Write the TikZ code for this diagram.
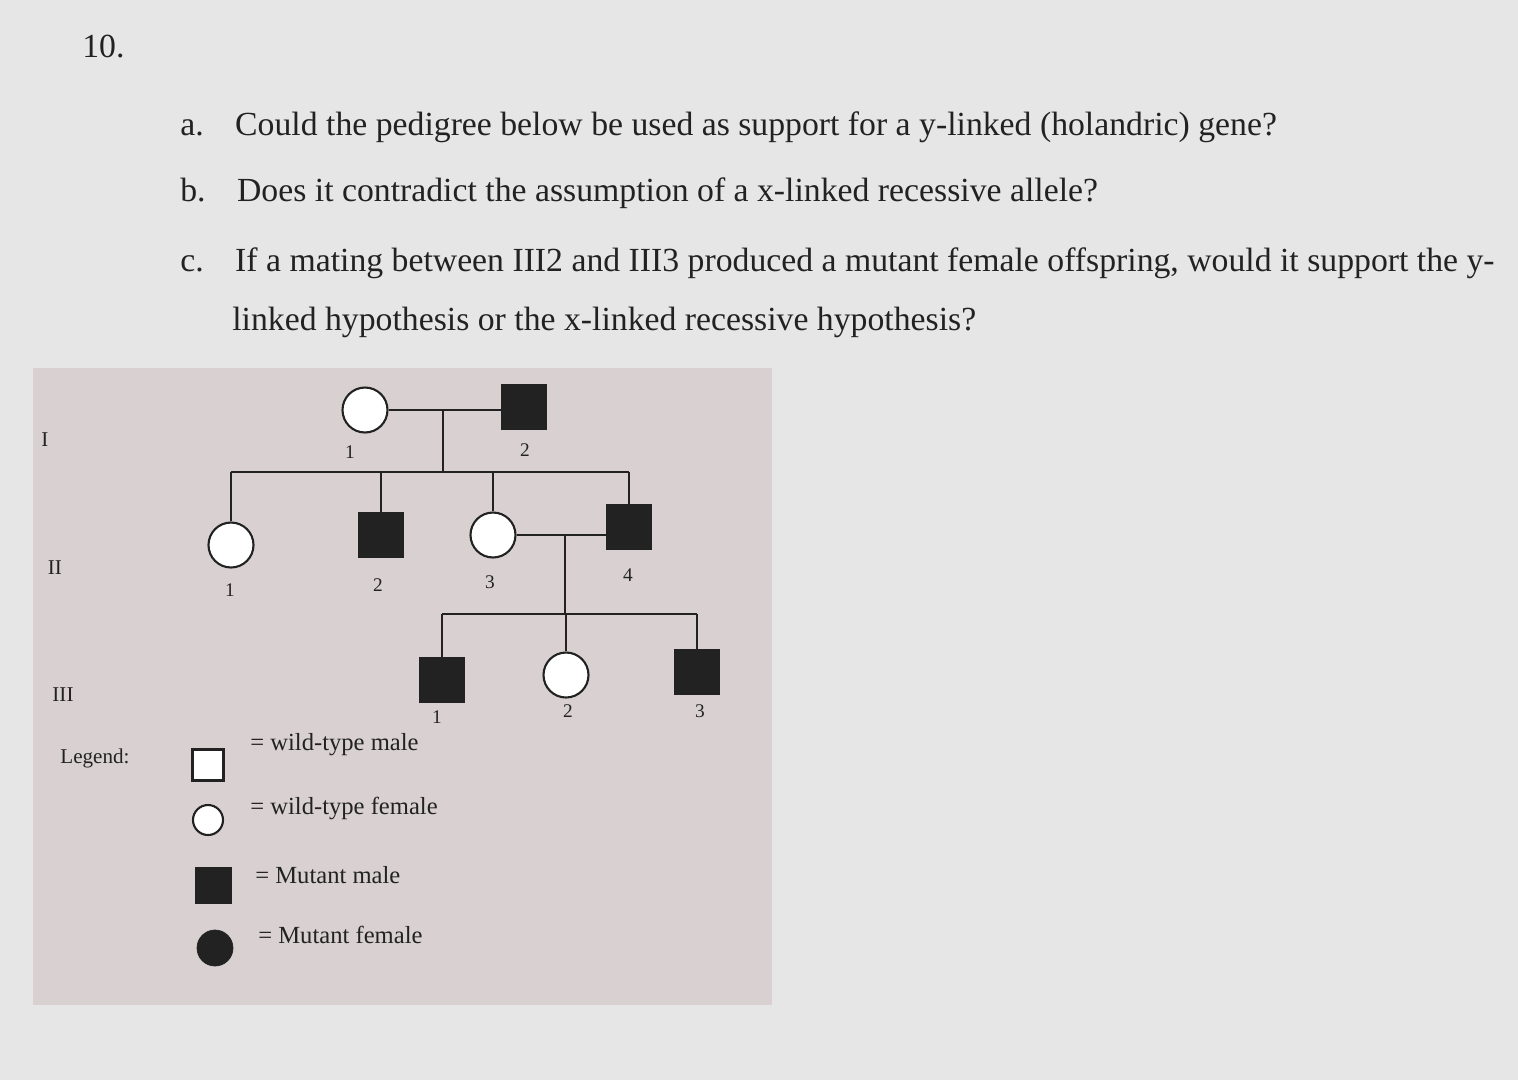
\documentclass[tikz,border=0pt]{standalone}
\usepackage{fontspec}
\setmainfont{Liberation Serif}
\definecolor{bgc}{HTML}{E6E6E6}
\definecolor{panel}{HTML}{D9D1D1}
\definecolor{ink}{HTML}{222222}
\begin{document}
\begin{tikzpicture}[x=0.02cm,y=-0.02cm,
  q/.style={anchor=west,font=\fontsize{19.2}{22}\selectfont,text=ink,inner sep=0},
  lab/.style={font=\fontsize{11}{13}\selectfont,text=ink,inner sep=0},
  rom/.style={font=\fontsize{12}{14}\selectfont,text=ink,inner sep=0},
  leg/.style={anchor=west,font=\fontsize{14}{16}\selectfont,text=ink,inner sep=0},
  msq/.style={draw=ink,fill=ink,minimum size=0.9cm,inner sep=0},
  wc/.style={circle,draw=ink,line width=1.2pt,fill=white,minimum size=0.9cm,inner sep=0},
  ln/.style={draw=ink,line width=1pt}]
\fill[bgc] (0,0) rectangle (1518,1080);
\useasboundingbox (0,0) rectangle (1518,1080);
\fill[panel] (33,368) rectangle (772,1005);
\node[q] (n10) at (82,47) {10.};
\node[q] (qa) at (180,127) {a.\hspace{0.6em} Could the pedigree below be used as support for a y-linked (holandric) gene?};
\node[q] (qb) at (180,193) {b.\hspace{0.6em} Does it contradict the assumption of a x-linked recessive allele?};
\node[q] (qc) at (180,263) {c.\hspace{0.6em} If a mating between III2 and III3 produced a mutant female offspring, would it support the y-};
\node[q] (qc2) at (232,322) {linked hypothesis or the x-linked recessive hypothesis?};
% generation I
\node[wc] (i1) at (365,410) {};
\node[msq] (i2) at (524,407) {};
\draw[ln] (i1.east) -- (i2.west |- i1.east);
\coordinate (m1) at (443,410);
\coordinate (s1) at (443,472);
\draw[ln] (m1) -- (s1);
\draw[ln] (231,472) -- (629,472);
\node[wc] (ii1) at (231,545) {};
\node[msq] (ii2) at (381,535) {};
\node[wc] (ii3) at (493,535) {};
\node[msq] (ii4) at (629,527) {};
\draw[ln] (ii1.north) -- (ii1.north |- s1);
\draw[ln] (ii2.north) -- (ii2.north |- s1);
\draw[ln] (ii3.north) -- (ii3.north |- s1);
\draw[ln] (ii4.north) -- (ii4.north |- s1);
\draw[ln] (ii3.east) -- (ii4.west |- ii3.east);
\coordinate (m2) at (565,535);
\coordinate (s2) at (565,614);
\draw[ln] (m2) -- (s2);
\draw[ln] (442,614) -- (697,614);
\node[msq] (iii1) at (442,680) {};
\node[wc] (iii2) at (566,675) {};
\node[msq] (iii3) at (697,672) {};
\draw[ln] (iii1.north) -- (iii1.north |- s2);
\draw[ln] (iii2.north) -- (iii2.north |- s2);
\draw[ln] (iii3.north) -- (iii3.north |- s2);
% labels
\node[lab] (l11) at (350,452) {1};
\node[lab] (l12) at (525,450) {2};
\node[lab] (l21) at (230,590) {1};
\node[lab] (l22) at (378,585) {2};
\node[lab] (l23) at (490,582) {3};
\node[lab] (l24) at (628,575) {4};
\node[lab] (l31) at (437,717) {1};
\node[lab] (l32) at (568,711) {2};
\node[lab] (l33) at (700,711) {3};
\node[rom] (r1) at (45,440) {I};
\node[rom] (r2) at (55,568) {II};
\node[rom] (r3) at (63,695) {III};
\node[rom] (lg) at (95,758) {Legend:};
% legend
\node[draw=ink,line width=1.2pt,fill=white,minimum size=0.62cm,inner sep=0] (k1) at (208,765) {};
\node[circle,draw=ink,line width=1.2pt,fill=white,minimum size=0.6cm,inner sep=0] (k2) at (208,820) {};
\node[draw=ink,fill=ink,minimum size=0.72cm,inner sep=0] (k3) at (213,885) {};
\node[circle,draw=ink,fill=ink,minimum size=0.72cm,inner sep=0] (k4) at (215,948) {};
\node[leg] (t1) at (250,745) {= wild-type male};
\node[leg] (t2) at (250,808) {= wild-type female};
\node[leg] (t3) at (255,875) {= Mutant male};
\node[leg] (t4) at (258,935) {= Mutant female};
\end{tikzpicture}
\end{document}
